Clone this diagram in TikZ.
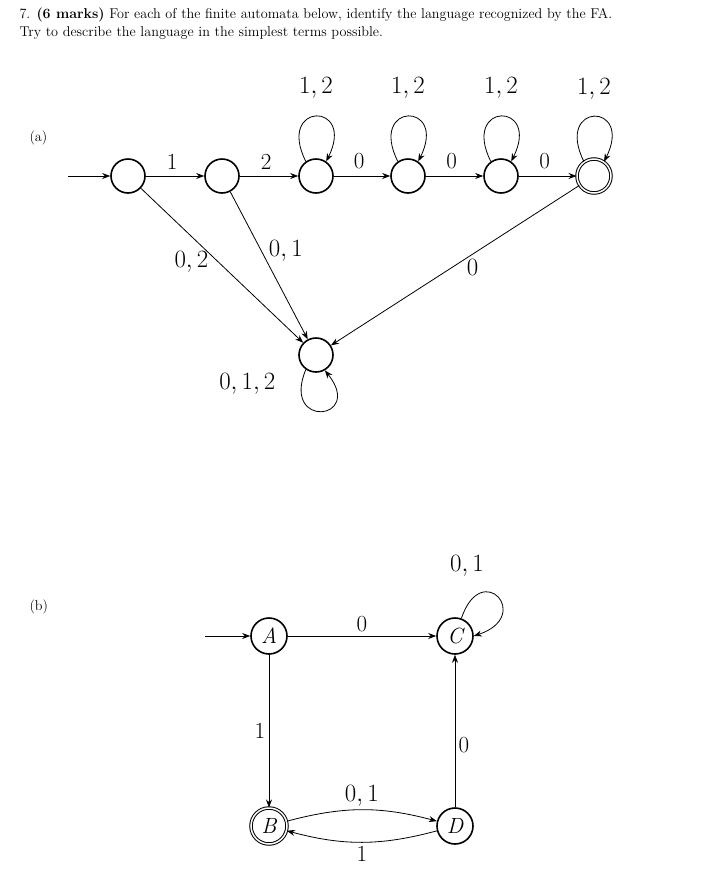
\documentclass[tikz,border=0pt]{standalone}
\usetikzlibrary{arrows.meta}
\begin{document}
\begin{tikzpicture}[x=1pt,y=-1pt,
 st/.style={circle,draw,line width=1.6pt,minimum size=34pt,inner sep=0pt,font=\fontsize{22}{24}\selectfont\itshape},
 acc/.style={st,double,double distance=1.5pt,line width=1pt},
 ed/.style={-{Stealth[length=8pt]},line width=0.8pt},
 lb/.style={font=\fontsize{23}{25}\selectfont},
 tx/.style={font=\fontsize{14.2}{16}\selectfont,anchor=west}]
\useasboundingbox (0,0) rectangle (704,876);
\node[tx] (h1) at (16,15) {7. \textbf{(6 marks)} For each of the finite automata below, identify the language recognized by the FA.};
\node[tx] (h2) at (16,33) {Try to describe the language in the simplest terms possible.};
\node[tx] (pa) at (26,138) {(a)};
\node[tx] (pb) at (26,607) {(b)};
% (a)
\node[st] (q0) at (128,176) {};
\node[st] (q1) at (222,176) {};
\node[st] (q2) at (316,176) {};
\node[st] (q3) at (408,176) {};
\node[st] (q4) at (501,176) {};
\node[acc] (q5) at (594,176) {};
\node[st] (d) at (316,355) {};
\coordinate (s0) at (68,176);
\draw[ed] (s0) -- (q0);
\draw[ed] (q0) -- node[lb,above,pos=0.45,yshift=3pt] {1} (q1);
\draw[ed] (q1) -- node[lb,above,pos=0.45,yshift=3pt] {2} (q2);
\draw[ed] (q2) -- node[lb,above,pos=0.45,yshift=3pt] {0} (q3);
\draw[ed] (q3) -- node[lb,above,pos=0.45,yshift=3pt] {0} (q4);
\draw[ed] (q4) -- node[lb,above,pos=0.45,yshift=3pt] {0} (q5);
\foreach \q in {q2,q3,q4,q5}
  \draw[ed] (\q.125) .. controls +(-30,-60) and +(30,-60) .. node[lb,above,yshift=14pt] {$1,2$} (\q.55);
\draw[ed] (q0) -- node[lb,left,pos=0.5,xshift=-10pt,yshift=4pt] {$0,2$} (d);
\draw[ed] (q1) -- node[lb,right,pos=0.4,xshift=4pt] {$0,1$} (d);
\draw[ed] (q5) -- node[lb,right,pos=0.5,xshift=8pt,yshift=-2pt] {$0$} (d);
\draw[ed] (d.-125) .. controls +(-25,60) and +(40,50) .. node[lb,left,pos=0.15,xshift=-22pt,yshift=8pt] {$0,1,2$} (d.-60);
% (b)
\node[st,minimum size=36pt] (A) at (269,636) {A};
\node[st,minimum size=36pt] (C) at (455,636) {C};
\node[acc,minimum size=36pt] (B) at (269,826) {B};
\node[st,minimum size=36pt] (D) at (455,826) {D};
\coordinate (sA) at (205,636);
\draw[ed] (sA) -- (A);
\draw[ed] (A) -- node[lb,above] {0} (C);
\draw[ed] (A) -- node[lb,left] {1} (B);
\draw[ed] (D) -- node[lb,right,yshift=-14pt] {0} (C);
\draw[ed] (B) to[bend left=15] node[lb,above] {$0,1$} (D);
\draw[ed] (D) to[bend left=15] node[lb,below] {1} (B);
\draw[ed] (C.70) .. controls +(20,-60) and +(60,-20) .. (C.0);
\node[lb] (lc) at (467,566) {$0,1$};
\end{tikzpicture}
\end{document}
